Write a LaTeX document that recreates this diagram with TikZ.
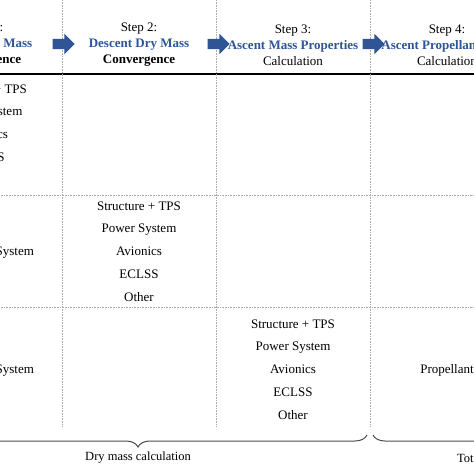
\documentclass[tikz,border=0pt]{standalone}
\usepackage{fontspec}
\setmainfont{Liberation Serif}
\usepackage{xcolor}
\usepackage{tikz}
\usetikzlibrary{shapes}
\usetikzlibrary{shapes.arrows}
\usetikzlibrary{positioning}
\usetikzlibrary{decorations.pathreplacing}
\definecolor{stepblue}{RGB}{47,85,151}
\tikzset{
	item node/.style={font=\fontsize{13}{16}\selectfont,inner sep=0pt,text height=9pt,text depth=3pt},
	head node/.style={font=\fontsize{13}{16}\selectfont,align=center,inner sep=0pt},
	step arrow/.style={single arrow,fill=stepblue,draw=none,minimum height=22pt,
		inner sep=5pt,single arrow head extend=5pt},
	grid line/.style={densely dotted,gray!65,line width=0.6pt},
	mass brace/.style={decorate,decoration={brace,mirror,amplitude=12pt},draw=black!70,line width=1pt},
	brace label/.style={font=\fontsize{12.5}{15}\selectfont,inner sep=0pt}
}

\begin{document}
\begin{tikzpicture}[x=1pt,y=-1pt,node distance=10.4pt]
	\fill[white] (0,0) rectangle (474,474);
	\useasboundingbox (0,0) rectangle (474,474);
	% table lines
	\draw[line width=1.3pt] (-100,74) -- (700,74);
	\draw[grid line] (-100,195) -- (700,195);
	\draw[grid line] (-100,307) -- (700,307);
	\draw[grid line] (62,0) -- (62,427);
	\draw[grid line] (216,0) -- (216,427);
	\draw[grid line] (370,0) -- (370,427);
	% headers
	\node [head node] (h1) at (-15,45) {Step 1:\\ \textcolor{stepblue}{\bfseries Ascent Dry Mass}\\ {\bfseries Convergence}};
	\node [head node] (h2) at (139,45) {Step 2:\\ \textcolor{stepblue}{\bfseries Descent Dry Mass}\\ {\bfseries Convergence}};
	\node [head node] (h3) at (293,45) {Step 3:\\ \textcolor{stepblue}{\bfseries Ascent Mass Properties}\\ Calculation};
	\node [head node] (h4) at (447,45) {Step 4:\\ \textcolor{stepblue}{\bfseries Ascent Propellant Mass}\\ Calculation};
	\node [step arrow] (a1) at (61,44) {};
	\node [step arrow] (a2) at (216,44) {};
	\node [step arrow] (a3) at (371,44) {};
	% step 1 column
	\node [item node] (s1) at (-15,90) {Structure + TPS};
	\node [item node,below=of s1] (p1) {Power System};
	\node [item node,below=of p1] (v1) {Avionics};
	\node [item node,below=of v1] (e1) {ECLSS};
	\node [item node,below=of e1] (o1) {Other};
	\node [item node] (q1) at (-15,252) {Propulsion System};
	\node [item node] (r1) at (-15,370) {Propulsion System};
	% step 2 column
	\node [item node] (s2) at (139,207) {Structure + TPS};
	\node [item node,below=of s2] (p2) {Power System};
	\node [item node,below=of p2] (v2) {Avionics};
	\node [item node,below=of v2] (e2) {ECLSS};
	\node [item node,below=of e2] (o2) {Other};
	% step 3 column
	\node [item node] (s3) at (293,325) {Structure + TPS};
	\node [item node,below=of s3] (p3) {Power System};
	\node [item node,below=of p3] (v3) {Avionics};
	\node [item node,below=of v3] (e3) {ECLSS};
	\node [item node,below=of e3] (o3) {Other};
	% step 4 column
	\node [item node] (g4) at (447,370) {Propellant};
	% braces
	\coordinate (d1) at (-91,435);
	\coordinate (d2) at (367,435);
	\coordinate (t1) at (373,435);
	\coordinate (t2) at (649,435);
	\draw [mass brace] (d1) -- (d2);
	\draw [mass brace] (t1) -- (t2);
	\node [brace label] (dry) at (138,458) {Dry mass calculation};
	\node [brace label] (tot) at (513,458) {Total mass calculation};
\end{tikzpicture}
\end{document}
